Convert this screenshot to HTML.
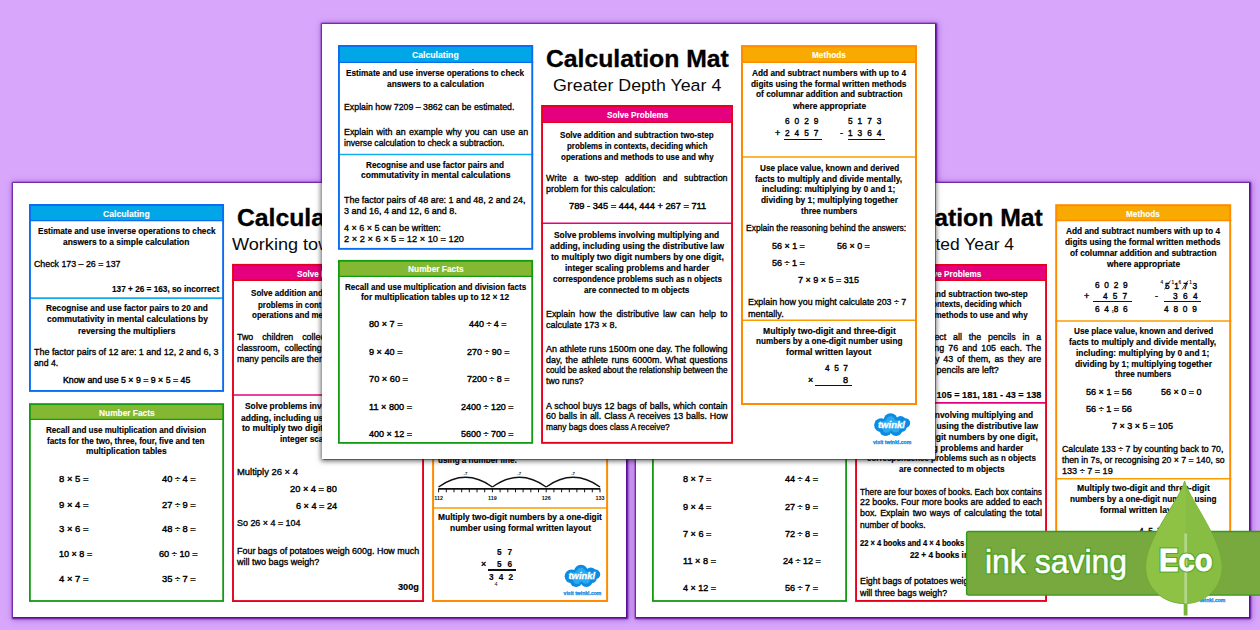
<!DOCTYPE html><html><head><meta charset="utf-8"><title>Calculation Mat</title><style>
html,body{margin:0;padding:0}
body{width:1260px;height:630px;overflow:hidden;background:#d8a7fb;position:relative;font-family:"Liberation Sans",sans-serif}
.a{position:absolute}
.sheet{position:absolute;background:#fff}
.shp{position:absolute;box-shadow:.6px .5px 1.5px 1.2px rgba(86,8,145,.95),.5px .5px 6px 2px rgba(120,40,185,.5)}
.shg{position:absolute;box-shadow:0 0 1px .5px rgba(40,40,40,.5),0 1px 5px 1px rgba(0,0,0,.62)}
.bx{position:absolute;box-sizing:border-box;border:1.5px solid;background:#fff}
.hd{position:absolute;left:0;right:0;top:0;box-sizing:border-box;border-bottom:1.2px solid}
.dv{position:absolute;left:0;right:0;height:1.6px}
.t{position:absolute;white-space:nowrap;transform-origin:0 50%;line-height:12px;height:12px}
.j{text-align:justify;text-align-last:justify;white-space:normal}
.ul{position:absolute;height:1.1px;background:#111}
</style></head><body>
<div class="shp" style="left:13px;top:183px;width:612.8px;height:434px"></div>
<div class="shp" style="left:636.3px;top:183px;width:612.7px;height:434px"></div>
<div class="sheet" style="left:13px;top:183px;width:612.8px;height:434px"></div>
<div class="sheet" style="left:636.3px;top:183px;width:612.7px;height:434px"></div>
<svg class="a" style="left:27.0px;top:202.0px" width="200.0" height="192.0" viewBox="27.0 202.0 200.0 192.0"><rect x="29.00" y="204.00" width="195.05" height="187.90" fill="#fff"/><rect x="29.95" y="204.95" width="193.15" height="15.65" fill="#00a6e6"/><line x1="29.00" x2="224.05" y1="220.60" y2="220.60" stroke="#0b6cf0" stroke-width="1.4"/><line x1="29.00" x2="224.05" y1="298.10" y2="298.10" stroke="#12aaf0" stroke-width="1.6"/><rect x="29.95" y="204.95" width="193.15" height="186.00" fill="none" stroke="#0b6cf0" stroke-width="1.9"/></svg>
<svg class="a" style="left:27.0px;top:401.0px" width="200.0" height="203.0" viewBox="27.0 401.0 200.0 203.0"><rect x="29.00" y="403.20" width="195.05" height="198.70" fill="#fff"/><rect x="29.90" y="404.10" width="193.25" height="15.30" fill="#84b832"/><line x1="29.00" x2="224.05" y1="419.40" y2="419.40" stroke="#139a13" stroke-width="1.4"/><rect x="29.90" y="404.10" width="193.25" height="196.90" fill="none" stroke="#139a13" stroke-width="1.8"/></svg>
<svg class="a" style="left:230.0px;top:261.0px" width="196.0" height="343.0" viewBox="230.0 261.0 196.0 343.0"><rect x="232.05" y="263.90" width="191.95" height="338.10" fill="#fff"/><rect x="233.00" y="264.85" width="190.05" height="15.45" fill="#e5007d"/><line x1="232.05" x2="424.00" y1="280.30" y2="280.30" stroke="#e6001c" stroke-width="1.4"/><line x1="232.05" x2="424.00" y1="395.00" y2="395.00" stroke="#e5007d" stroke-width="1.6"/><rect x="233.00" y="264.85" width="190.05" height="336.20" fill="none" stroke="#e6001c" stroke-width="1.9"/></svg>
<svg class="a" style="left:430.0px;top:202.0px" width="181.0" height="402.0" viewBox="430.0 202.0 181.0 402.0"><rect x="432.10" y="204.20" width="176.00" height="397.80" fill="#fff"/><rect x="433.10" y="205.20" width="174.00" height="15.30" fill="#f9aa00"/><line x1="432.10" x2="608.10" y1="220.50" y2="220.50" stroke="#ff8c00" stroke-width="1.4"/><line x1="432.10" x2="608.10" y1="508.00" y2="508.00" stroke="#fa9e00" stroke-width="1.6"/><rect x="433.10" y="205.20" width="174.00" height="395.80" fill="none" stroke="#ff8c00" stroke-width="2.0"/></svg>
<svg class="a" style="left:430px;top:466px" width="180" height="38" viewBox="430 466 180 38"><g stroke="#111" fill="none" stroke-width="1.45"><line x1="438.6" y1="488.8" x2="600.0" y2="488.8" stroke-width="1.8"/><line x1="438.6" y1="488.4" x2="438.6" y2="492.3" stroke-width="1.0"/><line x1="446.3" y1="488.4" x2="446.3" y2="492.3" stroke-width="1.0"/><line x1="454.0" y1="488.4" x2="454.0" y2="492.3" stroke-width="1.0"/><line x1="461.7" y1="488.4" x2="461.7" y2="492.3" stroke-width="1.0"/><line x1="469.3" y1="488.4" x2="469.3" y2="492.3" stroke-width="1.0"/><line x1="477.0" y1="488.4" x2="477.0" y2="492.3" stroke-width="1.0"/><line x1="484.7" y1="488.4" x2="484.7" y2="492.3" stroke-width="1.0"/><line x1="492.4" y1="488.4" x2="492.4" y2="492.3" stroke-width="1.0"/><line x1="500.1" y1="488.4" x2="500.1" y2="492.3" stroke-width="1.0"/><line x1="507.8" y1="488.4" x2="507.8" y2="492.3" stroke-width="1.0"/><line x1="515.5" y1="488.4" x2="515.5" y2="492.3" stroke-width="1.0"/><line x1="523.1" y1="488.4" x2="523.1" y2="492.3" stroke-width="1.0"/><line x1="530.8" y1="488.4" x2="530.8" y2="492.3" stroke-width="1.0"/><line x1="538.5" y1="488.4" x2="538.5" y2="492.3" stroke-width="1.0"/><line x1="546.2" y1="488.4" x2="546.2" y2="492.3" stroke-width="1.0"/><line x1="553.9" y1="488.4" x2="553.9" y2="492.3" stroke-width="1.0"/><line x1="561.6" y1="488.4" x2="561.6" y2="492.3" stroke-width="1.0"/><line x1="569.3" y1="488.4" x2="569.3" y2="492.3" stroke-width="1.0"/><line x1="576.9" y1="488.4" x2="576.9" y2="492.3" stroke-width="1.0"/><line x1="584.6" y1="488.4" x2="584.6" y2="492.3" stroke-width="1.0"/><line x1="592.3" y1="488.4" x2="592.3" y2="492.3" stroke-width="1.0"/><line x1="600.0" y1="488.4" x2="600.0" y2="492.3" stroke-width="1.0"/><path d="M438.6 487.0 Q465.5 467.6 492.4 487.0"/><path d="M492.4 487.0 Q519.3 467.6 546.2 487.0"/><path d="M546.2 487.0 Q573.1 467.6 600.0 487.0"/></g><text x="438.6" y="499.6" text-anchor="middle" font-family="Liberation Sans, sans-serif" font-weight="bold" font-size="5.4" fill="#111">112</text><text x="492.4" y="499.6" text-anchor="middle" font-family="Liberation Sans, sans-serif" font-weight="bold" font-size="5.4" fill="#111">119</text><text x="546.2" y="499.6" text-anchor="middle" font-family="Liberation Sans, sans-serif" font-weight="bold" font-size="5.4" fill="#111">126</text><text x="600.0" y="499.6" text-anchor="middle" font-family="Liberation Sans, sans-serif" font-weight="bold" font-size="5.4" fill="#111">133</text><text x="465.5" y="474.6" text-anchor="middle" font-family="Liberation Sans, sans-serif" font-weight="bold" font-size="4.4" fill="#111">-7</text><text x="519.3" y="474.6" text-anchor="middle" font-family="Liberation Sans, sans-serif" font-weight="bold" font-size="4.4" fill="#111">-7</text><text x="573.1" y="474.6" text-anchor="middle" font-family="Liberation Sans, sans-serif" font-weight="bold" font-size="4.4" fill="#111">-7</text></svg>
<div class="ul" style="left:488.0px;top:569.0px;width:28.4px;height:1.5px"></div>
<svg class="a" style="left:562px;top:562px" width="42" height="38" viewBox="562 562 42 38"><g transform="translate(564.20 564.70) scale(0.9865 0.9696)"><g fill="#0b8be2"><ellipse cx="18" cy="12.5" rx="15" ry="7.5"/><circle cx="7.5" cy="12" r="7"/><circle cx="17" cy="7" r="7"/><circle cx="27" cy="8.5" r="5.6"/><circle cx="31.5" cy="10" r="5"/><circle cx="12" cy="16.8" r="6.2"/><circle cx="22.5" cy="16.4" r="6.5"/><circle cx="28" cy="14" r="5"/></g><g fill="#2aa9ee"><ellipse cx="18" cy="12" rx="12.5" ry="5.5"/><circle cx="17" cy="8" r="4.8"/><circle cx="13" cy="16" r="3.8"/><circle cx="22" cy="15.5" r="4"/></g><text x="17.8" y="14.6" text-anchor="middle" font-family="Liberation Sans, sans-serif" font-weight="bold" font-style="italic" font-size="9.6" fill="#fff" stroke="#fff" stroke-width=".3" textLength="27" lengthAdjust="spacingAndGlyphs">twinkl</text></g><text x="563.60" y="595.20" font-family="Liberation Sans, sans-serif" font-weight="bold" font-size="5.4" fill="#0b86e0" stroke="#0b86e0" stroke-width=".25" textLength="37.7" lengthAdjust="spacingAndGlyphs">visit twinkl.com</text></svg>
<div class="t" style="left:103.2px;top:208.1px;font-size:9.0px;font-weight:bold;color:#fff;line-height:12px;height:12px;-webkit-text-stroke:0.1px #fff;transform:scaleX(0.9626)">Calculating</div>
<div class="t" style="left:98.7px;top:406.6px;font-size:9.0px;font-weight:bold;color:#fff;line-height:12px;height:12px;-webkit-text-stroke:0.1px #fff;transform:scaleX(0.9279)">Number Facts</div>
<div class="t" style="left:297.3px;top:267.9px;font-size:9.0px;font-weight:bold;color:#fff;line-height:12px;height:12px;-webkit-text-stroke:0.1px #fff;transform:scaleX(0.9077)">Solve Problems</div>
<div class="t" style="left:236.9px;top:203.0px;font-size:23.6px;font-weight:bold;color:#000;line-height:30px;height:30px;-webkit-text-stroke:0.3px #000;transform:scaleX(1.0484)">Calculation Mat</div>
<div class="t" style="left:232.4px;top:233.3px;font-size:17.2px;font-weight:normal;color:#0a0a0a;line-height:22px;height:22px;transform:scaleX(1.0529)">Working towards Year 4</div>
<div class="t" style="left:37.5px;top:225.2px;font-size:9.0px;font-weight:bold;color:#000;line-height:12px;height:12px;-webkit-text-stroke:0.15px #000;transform:scaleX(0.9076)">Estimate and use inverse operations to check</div>
<div class="t" style="left:63.3px;top:236.1px;font-size:9.0px;font-weight:bold;color:#000;line-height:12px;height:12px;-webkit-text-stroke:0.15px #000;transform:scaleX(0.9351)">answers to a simple calculation</div>
<div class="t" style="left:34.0px;top:257.6px;font-size:9.0px;font-weight:normal;color:#000;line-height:12px;height:12px;-webkit-text-stroke:0.32px #000;transform:scaleX(0.9793)">Check 173 – 26 = 137</div>
<div class="t" style="left:111.8px;top:283.4px;font-size:9.0px;font-weight:bold;color:#000;line-height:12px;height:12px;-webkit-text-stroke:0.15px #000;transform:scaleX(0.9156)">137 + 26 = 163, so incorrect</div>
<div class="t" style="left:45.8px;top:302.1px;font-size:9.0px;font-weight:bold;color:#000;line-height:12px;height:12px;-webkit-text-stroke:0.15px #000;transform:scaleX(0.9222)">Recognise and use factor pairs to 20 and</div>
<div class="t" style="left:46.8px;top:313.4px;font-size:9.0px;font-weight:bold;color:#000;line-height:12px;height:12px;-webkit-text-stroke:0.15px #000;transform:scaleX(0.9434)">commutativity in mental calculations by</div>
<div class="t" style="left:77.8px;top:324.7px;font-size:9.0px;font-weight:bold;color:#000;line-height:12px;height:12px;-webkit-text-stroke:0.15px #000;transform:scaleX(0.9307)">reversing the multipliers</div>
<div class="t" style="left:34.0px;top:346.4px;font-size:9.0px;font-weight:normal;color:#000;line-height:12px;height:12px;-webkit-text-stroke:0.32px #000;transform:scaleX(0.9934)">The factor pairs of 12 are: 1 and 12, 2 and 6, 3</div>
<div class="t" style="left:34.0px;top:357.3px;font-size:9.0px;font-weight:normal;color:#000;line-height:12px;height:12px;-webkit-text-stroke:0.32px #000;transform:scaleX(0.9668)">and 4.</div>
<div class="t" style="left:62.9px;top:374.2px;font-size:9.0px;font-weight:normal;color:#000;line-height:12px;height:12px;-webkit-text-stroke:0.4px #000;transform:scaleX(0.9747)">Know and use 5 × 9 = 9 × 5 = 45</div>
<div class="t" style="left:46.4px;top:424.1px;font-size:9.0px;font-weight:bold;color:#000;line-height:12px;height:12px;-webkit-text-stroke:0.15px #000;transform:scaleX(0.8953)">Recall and use multiplication and division</div>
<div class="t" style="left:47.2px;top:434.6px;font-size:9.0px;font-weight:bold;color:#000;line-height:12px;height:12px;-webkit-text-stroke:0.15px #000;transform:scaleX(0.9076)">facts for the two, three, four, five and ten</div>
<div class="t" style="left:86.4px;top:444.9px;font-size:9.0px;font-weight:bold;color:#000;line-height:12px;height:12px;-webkit-text-stroke:0.15px #000;transform:scaleX(0.9263)">multiplication tables</div>
<div class="t" style="left:59.2px;top:472.9px;font-size:9.0px;font-weight:normal;color:#000;line-height:12px;height:12px;-webkit-text-stroke:0.4px #000;transform:scaleX(1.0560)">8 × 5 =</div>
<div class="t" style="left:161.8px;top:472.9px;font-size:9.0px;font-weight:normal;color:#000;line-height:12px;height:12px;-webkit-text-stroke:0.4px #000;transform:scaleX(1.0330)">40 ÷ 4 =</div>
<div class="t" style="left:59.2px;top:498.6px;font-size:9.0px;font-weight:normal;color:#000;line-height:12px;height:12px;-webkit-text-stroke:0.4px #000;transform:scaleX(1.0560)">9 × 4 =</div>
<div class="t" style="left:161.8px;top:498.6px;font-size:9.0px;font-weight:normal;color:#000;line-height:12px;height:12px;-webkit-text-stroke:0.4px #000;transform:scaleX(1.0330)">27 ÷ 9 =</div>
<div class="t" style="left:59.2px;top:523.3px;font-size:9.0px;font-weight:normal;color:#000;line-height:12px;height:12px;-webkit-text-stroke:0.4px #000;transform:scaleX(1.0560)">3 × 6 =</div>
<div class="t" style="left:161.8px;top:523.3px;font-size:9.0px;font-weight:normal;color:#000;line-height:12px;height:12px;-webkit-text-stroke:0.4px #000;transform:scaleX(1.0330)">48 ÷ 8 =</div>
<div class="t" style="left:58.6px;top:548.4px;font-size:9.0px;font-weight:normal;color:#000;line-height:12px;height:12px;-webkit-text-stroke:0.4px #000;transform:scaleX(1.0051)">10 × 8 =</div>
<div class="t" style="left:159.4px;top:548.4px;font-size:9.0px;font-weight:normal;color:#000;line-height:12px;height:12px;-webkit-text-stroke:0.4px #000;transform:scaleX(1.0234)">60 ÷ 10 =</div>
<div class="t" style="left:59.2px;top:573.4px;font-size:9.0px;font-weight:normal;color:#000;line-height:12px;height:12px;-webkit-text-stroke:0.4px #000;transform:scaleX(1.0560)">4 × 7 =</div>
<div class="t" style="left:161.8px;top:573.4px;font-size:9.0px;font-weight:normal;color:#000;line-height:12px;height:12px;-webkit-text-stroke:0.4px #000;transform:scaleX(1.0330)">35 ÷ 7 =</div>
<div class="t" style="left:251.4px;top:287.1px;font-size:9.0px;font-weight:bold;color:#000;line-height:12px;height:12px;-webkit-text-stroke:0.15px #000;transform:scaleX(0.8987)">Solve addition and subtraction two-step</div>
<div class="t" style="left:257.9px;top:298.5px;font-size:9.0px;font-weight:bold;color:#000;line-height:12px;height:12px;-webkit-text-stroke:0.15px #000;transform:scaleX(0.8752)">problems in contexts, deciding which</div>
<div class="t" style="left:251.6px;top:309.2px;font-size:9.0px;font-weight:bold;color:#000;line-height:12px;height:12px;-webkit-text-stroke:0.15px #000;transform:scaleX(0.8876)">operations and methods to use and why</div>
<div class="t j" style="left:237.4px;top:331.2px;width:183.9px;font-size:9.0px;font-weight:normal;color:#000;line-height:12px;height:12px;-webkit-text-stroke:0.32px #000;transform:scaleX(0.9874)">Two children collect all pencils in the</div>
<div class="t j" style="left:237.4px;top:342.2px;width:183.9px;font-size:9.0px;font-weight:normal;color:#000;line-height:12px;height:12px;-webkit-text-stroke:0.32px #000;transform:scaleX(0.9874)">classroom, collecting 32 and 45 each. How</div>
<div class="t" style="left:237.4px;top:352.7px;font-size:9.0px;font-weight:normal;color:#000;line-height:12px;height:12px;-webkit-text-stroke:0.32px #000;transform:scaleX(0.9874)">many pencils are there altogether?</div>
<div class="t" style="left:245.3px;top:400.3px;font-size:9.0px;font-weight:bold;color:#000;line-height:12px;height:12px;-webkit-text-stroke:0.15px #000;transform:scaleX(0.9274)">Solve problems involving multiplying and</div>
<div class="t" style="left:241.0px;top:411.7px;font-size:9.0px;font-weight:bold;color:#000;line-height:12px;height:12px;-webkit-text-stroke:0.15px #000;transform:scaleX(0.9405)">adding, including using the distributive law</div>
<div class="t" style="left:241.7px;top:422.4px;font-size:9.0px;font-weight:bold;color:#000;line-height:12px;height:12px;-webkit-text-stroke:0.15px #000;transform:scaleX(0.9547)">to multiply two digit numbers by one digit,</div>
<div class="t" style="left:279.8px;top:433.1px;font-size:9.0px;font-weight:bold;color:#000;line-height:12px;height:12px;-webkit-text-stroke:0.15px #000;transform:scaleX(0.9143)">integer scaling problems</div>
<div class="t" style="left:237.2px;top:466.4px;font-size:9.0px;font-weight:normal;color:#000;line-height:12px;height:12px;-webkit-text-stroke:0.32px #000;transform:scaleX(1.0449)">Multiply 26 × 4</div>
<div class="t" style="left:289.8px;top:482.9px;font-size:9.0px;font-weight:normal;color:#000;line-height:12px;height:12px;-webkit-text-stroke:0.4px #000;transform:scaleX(1.0297)">20 × 4 = 80</div>
<div class="t" style="left:295.6px;top:500.4px;font-size:9.0px;font-weight:normal;color:#000;line-height:12px;height:12px;-webkit-text-stroke:0.4px #000;transform:scaleX(1.0136)">6 × 4 = 24</div>
<div class="t" style="left:237.2px;top:517.2px;font-size:9.0px;font-weight:normal;color:#000;line-height:12px;height:12px;-webkit-text-stroke:0.32px #000;transform:scaleX(0.9912)">So 26 × 4 = 104</div>
<div class="t" style="left:237.2px;top:545.1px;font-size:9.0px;font-weight:normal;color:#000;line-height:12px;height:12px;-webkit-text-stroke:0.32px #000;transform:scaleX(0.9918)">Four bags of potatoes weigh 600g. How much</div>
<div class="t" style="left:237.2px;top:555.8px;font-size:9.0px;font-weight:normal;color:#000;line-height:12px;height:12px;-webkit-text-stroke:0.32px #000;transform:scaleX(1.0031)">will two bags weigh?</div>
<div class="t" style="left:398.4px;top:581.1px;font-size:9.0px;font-weight:bold;color:#000;line-height:12px;height:12px;-webkit-text-stroke:0.15px #000;transform:scaleX(1.0187)">300g</div>
<div class="t" style="left:438.2px;top:454.1px;font-size:9.0px;font-weight:bold;color:#000;line-height:12px;height:12px;-webkit-text-stroke:0.15px #000;transform:scaleX(0.9004)">using a number line.</div>
<div class="t" style="left:438.2px;top:511.3px;font-size:9.0px;font-weight:bold;color:#000;line-height:12px;height:12px;-webkit-text-stroke:0.15px #000;transform:scaleX(0.9333)">Multiply two-digit numbers by a one-digit</div>
<div class="t" style="left:449.6px;top:522.2px;font-size:9.0px;font-weight:bold;color:#000;line-height:12px;height:12px;-webkit-text-stroke:0.15px #000;transform:scaleX(0.9368)">number using formal written layout</div>
<div class="t" style="left:497.4px;top:546.4px;font-size:9.0px;font-weight:bold;color:#000;line-height:12px;height:12px;-webkit-text-stroke:0.15px #000;letter-spacing:6.51px;transform:scaleX(0.92)">57</div>
<div class="t" style="left:480.8px;top:558.3px;font-size:9.0px;font-weight:normal;color:#000;line-height:12px;height:12px;-webkit-text-stroke:0.4px #000;transform:scaleX(1.0014)">×</div>
<div class="t" style="left:497.4px;top:558.3px;font-size:9.0px;font-weight:bold;color:#000;line-height:12px;height:12px;-webkit-text-stroke:0.15px #000;letter-spacing:6.51px;transform:scaleX(0.92)">56</div>
<div class="t" style="left:488.5px;top:571.0px;font-size:9.0px;font-weight:bold;color:#000;line-height:12px;height:12px;-webkit-text-stroke:0.15px #000;letter-spacing:5.58px;transform:scaleX(0.92)">342</div>
<div class="t" style="left:494.5px;top:577.9px;font-size:5.5px;font-weight:normal;color:#111;line-height:12px;height:12px;transform:scaleX(1.0000)">4</div>
<svg class="a" style="left:650.0px;top:401.0px" width="199.0" height="203.0" viewBox="650.0 401.0 199.0 203.0"><rect x="652.00" y="403.20" width="195.00" height="198.70" fill="#fff"/><rect x="652.90" y="404.10" width="193.20" height="15.30" fill="#84b832"/><line x1="652.00" x2="847.00" y1="419.40" y2="419.40" stroke="#139a13" stroke-width="1.4"/><rect x="652.90" y="404.10" width="193.20" height="196.90" fill="none" stroke="#139a13" stroke-width="1.8"/></svg>
<svg class="a" style="left:853.0px;top:262.0px" width="196.0" height="342.0" viewBox="853.0 262.0 196.0 342.0"><rect x="855.10" y="264.00" width="191.90" height="337.90" fill="#fff"/><rect x="856.05" y="264.95" width="190.00" height="15.25" fill="#e5007d"/><line x1="855.10" x2="1047.00" y1="280.20" y2="280.20" stroke="#e6001c" stroke-width="1.4"/><line x1="855.10" x2="1047.00" y1="402.90" y2="402.90" stroke="#e5007d" stroke-width="1.6"/><rect x="856.05" y="264.95" width="190.00" height="336.00" fill="none" stroke="#e6001c" stroke-width="1.9"/></svg>
<svg class="a" style="left:1053.0px;top:202.0px" width="181.0" height="366.0" viewBox="1053.0 202.0 181.0 366.0"><rect x="1055.20" y="204.20" width="176.00" height="361.80" fill="#fff"/><rect x="1056.20" y="205.20" width="174.00" height="15.30" fill="#f9aa00"/><line x1="1055.20" x2="1231.20" y1="220.50" y2="220.50" stroke="#ff8c00" stroke-width="1.4"/><line x1="1055.20" x2="1231.20" y1="321.00" y2="321.00" stroke="#fa9e00" stroke-width="1.6"/><line x1="1055.20" x2="1231.20" y1="478.80" y2="478.80" stroke="#fa9e00" stroke-width="1.6"/><rect x="1056.20" y="205.20" width="174.00" height="359.80" fill="none" stroke="#ff8c00" stroke-width="2.0"/></svg>
<div class="ul" style="left:1093.3px;top:301.1px;width:38.8px;height:1.1px"></div>
<div class="ul" style="left:1163.8px;top:301.1px;width:37.4px;height:1.1px"></div>
<svg class="a" style="left:1155px;top:276px" width="50" height="16" viewBox="1155 276 50 16"><g stroke="#111" stroke-width=".8"><line x1="1164.6" y1="289.4" x2="1170.4" y2="280.6"/><line x1="1182.2" y1="289.4" x2="1188" y2="280.6"/></g><g font-family="Liberation Sans, sans-serif" font-size="4.6" font-weight="bold" fill="#111"><text x="1160.4" y="283.6">4</text><text x="1171.4" y="283.6">1</text><text x="1178.6" y="283.6">6</text><text x="1189.2" y="283.6">1</text></g></svg>
<div class="t" style="left:1111.6px;top:306.4px;font-size:4.4px;font-weight:bold;color:#111">1</div>
<svg class="a" style="left:1186px;top:568px" width="42" height="38" viewBox="1186 568 42 38"><g transform="translate(1188.20 570.00) scale(0.9865 0.9696)"><g fill="#0b8be2"><ellipse cx="18" cy="12.5" rx="15" ry="7.5"/><circle cx="7.5" cy="12" r="7"/><circle cx="17" cy="7" r="7"/><circle cx="27" cy="8.5" r="5.6"/><circle cx="31.5" cy="10" r="5"/><circle cx="12" cy="16.8" r="6.2"/><circle cx="22.5" cy="16.4" r="6.5"/><circle cx="28" cy="14" r="5"/></g><g fill="#2aa9ee"><ellipse cx="18" cy="12" rx="12.5" ry="5.5"/><circle cx="17" cy="8" r="4.8"/><circle cx="13" cy="16" r="3.8"/><circle cx="22" cy="15.5" r="4"/></g><text x="17.8" y="14.6" text-anchor="middle" font-family="Liberation Sans, sans-serif" font-weight="bold" font-style="italic" font-size="9.6" fill="#fff" stroke="#fff" stroke-width=".3" textLength="27" lengthAdjust="spacingAndGlyphs">twinkl</text></g><text x="1187.60" y="601.70" font-family="Liberation Sans, sans-serif" font-weight="bold" font-size="5.4" fill="#0b86e0" stroke="#0b86e0" stroke-width=".25" textLength="37.7" lengthAdjust="spacingAndGlyphs">visit twinkl.com</text></svg>
<div class="t" style="left:683.3px;top:473.2px;font-size:9.0px;font-weight:normal;color:#000;line-height:12px;height:12px;-webkit-text-stroke:0.4px #000;transform:scaleX(1.0132)">8 × 7 =</div>
<div class="t" style="left:785.4px;top:473.2px;font-size:9.0px;font-weight:normal;color:#000;line-height:12px;height:12px;-webkit-text-stroke:0.4px #000;transform:scaleX(1.0086)">44 ÷ 4 =</div>
<div class="t" style="left:683.3px;top:500.6px;font-size:9.0px;font-weight:normal;color:#000;line-height:12px;height:12px;-webkit-text-stroke:0.4px #000;transform:scaleX(1.0132)">9 × 4 =</div>
<div class="t" style="left:785.4px;top:500.6px;font-size:9.0px;font-weight:normal;color:#000;line-height:12px;height:12px;-webkit-text-stroke:0.4px #000;transform:scaleX(1.0086)">27 ÷ 9 =</div>
<div class="t" style="left:683.3px;top:528.3px;font-size:9.0px;font-weight:normal;color:#000;line-height:12px;height:12px;-webkit-text-stroke:0.4px #000;transform:scaleX(1.0132)">7 × 6 =</div>
<div class="t" style="left:785.4px;top:528.3px;font-size:9.0px;font-weight:normal;color:#000;line-height:12px;height:12px;-webkit-text-stroke:0.4px #000;transform:scaleX(1.0086)">72 ÷ 8 =</div>
<div class="t" style="left:683.3px;top:555.2px;font-size:9.0px;font-weight:normal;color:#000;line-height:12px;height:12px;-webkit-text-stroke:0.4px #000;transform:scaleX(1.0193)">11 × 8 =</div>
<div class="t" style="left:783.0px;top:555.2px;font-size:9.0px;font-weight:normal;color:#000;line-height:12px;height:12px;-webkit-text-stroke:0.4px #000;transform:scaleX(1.0048)">24 ÷ 12 =</div>
<div class="t" style="left:683.3px;top:582.4px;font-size:9.0px;font-weight:normal;color:#000;line-height:12px;height:12px;-webkit-text-stroke:0.4px #000;transform:scaleX(0.9991)">4 × 12 =</div>
<div class="t" style="left:785.4px;top:582.4px;font-size:9.0px;font-weight:normal;color:#000;line-height:12px;height:12px;-webkit-text-stroke:0.4px #000;transform:scaleX(1.0086)">56 ÷ 7 =</div>
<div class="t" style="left:859.9px;top:203.0px;font-size:23.6px;font-weight:bold;color:#000;line-height:30px;height:30px;-webkit-text-stroke:0.3px #000;transform:scaleX(1.0484)">Calculation Mat</div>
<div class="t" style="left:887.3px;top:233.3px;font-size:17.2px;font-weight:normal;color:#0a0a0a;line-height:22px;height:22px;transform:scaleX(1.0145)">Expected Year 4</div>
<div class="t" style="left:919.9px;top:267.9px;font-size:9.0px;font-weight:bold;color:#fff;line-height:12px;height:12px;-webkit-text-stroke:0.1px #fff;transform:scaleX(0.9077)">Solve Problems</div>
<div class="t" style="left:1126.2px;top:207.7px;font-size:9.0px;font-weight:bold;color:#fff;line-height:12px;height:12px;-webkit-text-stroke:0.1px #fff;transform:scaleX(0.9135)">Methods</div>
<div class="t" style="left:874.4px;top:287.7px;font-size:9.0px;font-weight:bold;color:#000;line-height:12px;height:12px;-webkit-text-stroke:0.15px #000;transform:scaleX(0.8987)">Solve addition and subtraction two-step</div>
<div class="t" style="left:880.9px;top:297.9px;font-size:9.0px;font-weight:bold;color:#000;line-height:12px;height:12px;-webkit-text-stroke:0.15px #000;transform:scaleX(0.8752)">problems in contexts, deciding which</div>
<div class="t" style="left:874.6px;top:308.6px;font-size:9.0px;font-weight:bold;color:#000;line-height:12px;height:12px;-webkit-text-stroke:0.15px #000;transform:scaleX(0.8876)">operations and methods to use and why</div>
<div class="t j" style="left:860.2px;top:331.2px;width:183.5px;font-size:9.0px;font-weight:normal;color:#000;line-height:12px;height:12px;-webkit-text-stroke:0.32px #000;transform:scaleX(0.9874)">Two children collect all the pencils in a</div>
<div class="t j" style="left:860.2px;top:342.2px;width:183.5px;font-size:9.0px;font-weight:normal;color:#000;line-height:12px;height:12px;-webkit-text-stroke:0.32px #000;transform:scaleX(0.9874)">classroom, collecting 76 and 105 each. The</div>
<div class="t j" style="left:860.2px;top:352.7px;width:183.5px;font-size:9.0px;font-weight:normal;color:#000;line-height:12px;height:12px;-webkit-text-stroke:0.32px #000;transform:scaleX(0.9874)">teacher takes away 43 of them, as they are</div>
<div class="t" style="left:860.2px;top:363.6px;font-size:9.0px;font-weight:normal;color:#000;line-height:12px;height:12px;-webkit-text-stroke:0.32px #000;transform:scaleX(0.9874)">broken. How many pencils are left?</div>
<div class="t" style="left:916.0px;top:389.1px;font-size:9.0px;font-weight:bold;color:#000;line-height:12px;height:12px;-webkit-text-stroke:0.15px #000;transform:scaleX(1.0124)">76 + 105 = 181, 181 - 43 = 138</div>
<div class="t" style="left:868.3px;top:409.3px;font-size:9.0px;font-weight:bold;color:#000;line-height:12px;height:12px;-webkit-text-stroke:0.15px #000;transform:scaleX(0.9274)">Solve problems involving multiplying and</div>
<div class="t" style="left:864.0px;top:419.6px;font-size:9.0px;font-weight:bold;color:#000;line-height:12px;height:12px;-webkit-text-stroke:0.15px #000;transform:scaleX(0.9405)">adding, including using the distributive law</div>
<div class="t" style="left:864.7px;top:430.8px;font-size:9.0px;font-weight:bold;color:#000;line-height:12px;height:12px;-webkit-text-stroke:0.15px #000;transform:scaleX(0.9547)">to multiply two digit numbers by one digit,</div>
<div class="t" style="left:879.2px;top:442.0px;font-size:9.0px;font-weight:bold;color:#000;line-height:12px;height:12px;-webkit-text-stroke:0.15px #000;transform:scaleX(0.9277)">integer scaling problems and harder</div>
<div class="t" style="left:866.5px;top:452.2px;font-size:9.0px;font-weight:bold;color:#000;line-height:12px;height:12px;-webkit-text-stroke:0.15px #000;transform:scaleX(0.8840)">correspondence problems such as n objects</div>
<div class="t" style="left:898.8px;top:463.4px;font-size:9.0px;font-weight:bold;color:#000;line-height:12px;height:12px;-webkit-text-stroke:0.15px #000;transform:scaleX(0.9053)">are connected to m objects</div>
<div class="t" style="left:860.2px;top:485.6px;font-size:9.0px;font-weight:normal;color:#000;line-height:12px;height:12px;-webkit-text-stroke:0.32px #000;transform:scaleX(0.9163)">There are four boxes of books. Each box contains</div>
<div class="t" style="left:860.2px;top:495.8px;font-size:9.0px;font-weight:normal;color:#000;line-height:12px;height:12px;-webkit-text-stroke:0.32px #000;transform:scaleX(0.9858)">22 books. Four more books are added to each</div>
<div class="t j" style="left:860.2px;top:506.8px;width:184.3px;font-size:9.0px;font-weight:normal;color:#000;line-height:12px;height:12px;-webkit-text-stroke:0.32px #000;transform:scaleX(0.9874)">box. Explain two ways of calculating the total</div>
<div class="t" style="left:860.2px;top:518.7px;font-size:9.0px;font-weight:normal;color:#000;line-height:12px;height:12px;-webkit-text-stroke:0.32px #000;transform:scaleX(0.9432)">number of books.</div>
<div class="t" style="left:860.2px;top:538.4px;font-size:8.2px;font-weight:bold;color:#000;line-height:12px;height:12px;-webkit-text-stroke:0.2px #000;transform:scaleX(0.9194)">22 × 4 books and 4 × 4 books or</div>
<div class="t" style="left:909.7px;top:549.6px;font-size:8.2px;font-weight:bold;color:#000;line-height:12px;height:12px;-webkit-text-stroke:0.2px #000;transform:scaleX(0.9991)">22 + 4 books in each box, then × 4</div>
<div class="t" style="left:860.2px;top:575.1px;font-size:9.0px;font-weight:normal;color:#000;line-height:12px;height:12px;-webkit-text-stroke:0.32px #000;transform:scaleX(0.9805)">Eight bags of potatoes weigh 900g. How much</div>
<div class="t" style="left:860.2px;top:587.0px;font-size:9.0px;font-weight:normal;color:#000;line-height:12px;height:12px;-webkit-text-stroke:0.32px #000;transform:scaleX(0.9835)">will three bags weigh?</div>
<div class="t" style="left:1066.2px;top:225.3px;font-size:9.0px;font-weight:bold;color:#000;line-height:12px;height:12px;-webkit-text-stroke:0.15px #000;transform:scaleX(0.9221)">Add and subtract numbers with up to 4</div>
<div class="t" style="left:1064.8px;top:236.0px;font-size:9.0px;font-weight:bold;color:#000;line-height:12px;height:12px;-webkit-text-stroke:0.15px #000;transform:scaleX(0.9222)">digits using the formal written methods</div>
<div class="t" style="left:1069.5px;top:247.0px;font-size:9.0px;font-weight:bold;color:#000;line-height:12px;height:12px;-webkit-text-stroke:0.15px #000;transform:scaleX(0.9226)">of columnar addition and subtraction</div>
<div class="t" style="left:1106.7px;top:258.1px;font-size:9.0px;font-weight:bold;color:#000;line-height:12px;height:12px;-webkit-text-stroke:0.15px #000;transform:scaleX(0.9368)">where appropriate</div>
<div class="t" style="left:1094.8px;top:278.9px;font-size:9.0px;font-weight:normal;color:#000;line-height:12px;height:12px;-webkit-text-stroke:0.4px #000;letter-spacing:5.13px;transform:scaleX(0.92)">6029</div>
<div class="t" style="left:1084.4px;top:290.3px;font-size:9.0px;font-weight:normal;color:#000;line-height:12px;height:12px;-webkit-text-stroke:0.4px #000;transform:scaleX(1.0014)">+</div>
<div class="t" style="left:1103.4px;top:290.3px;font-size:9.0px;font-weight:normal;color:#000;line-height:12px;height:12px;-webkit-text-stroke:0.4px #000;letter-spacing:5.53px;transform:scaleX(0.92)">457</div>
<div class="t" style="left:1094.8px;top:302.7px;font-size:9.0px;font-weight:normal;color:#000;line-height:12px;height:12px;-webkit-text-stroke:0.4px #000;letter-spacing:5.13px;transform:scaleX(0.92)">6486</div>
<div class="t" style="left:1165.0px;top:279.5px;font-size:9.0px;font-weight:normal;color:#000;line-height:12px;height:12px;-webkit-text-stroke:0.4px #000;letter-spacing:4.95px;transform:scaleX(0.92)">5173</div>
<div class="t" style="left:1155.1px;top:290.3px;font-size:9.0px;font-weight:normal;color:#000;line-height:12px;height:12px;-webkit-text-stroke:0.4px #000;transform:scaleX(1.0014)">-</div>
<div class="t" style="left:1172.6px;top:290.3px;font-size:9.0px;font-weight:normal;color:#000;line-height:12px;height:12px;-webkit-text-stroke:0.4px #000;letter-spacing:5.80px;transform:scaleX(0.92)">364</div>
<div class="t" style="left:1164.3px;top:302.7px;font-size:9.0px;font-weight:normal;color:#000;line-height:12px;height:12px;-webkit-text-stroke:0.4px #000;letter-spacing:5.21px;transform:scaleX(0.92)">4809</div>
<div class="t" style="left:1073.8px;top:324.8px;font-size:9.0px;font-weight:bold;color:#000;line-height:12px;height:12px;-webkit-text-stroke:0.15px #000;transform:scaleX(0.9042)">Use place value, known and derived</div>
<div class="t" style="left:1069.0px;top:335.5px;font-size:9.0px;font-weight:bold;color:#000;line-height:12px;height:12px;-webkit-text-stroke:0.15px #000;transform:scaleX(0.9383)">facts to multiply and divide mentally,</div>
<div class="t" style="left:1076.2px;top:346.5px;font-size:9.0px;font-weight:bold;color:#000;line-height:12px;height:12px;-webkit-text-stroke:0.15px #000;transform:scaleX(0.9321)">including: multiplying by 0 and 1;</div>
<div class="t" style="left:1074.5px;top:357.7px;font-size:9.0px;font-weight:bold;color:#000;line-height:12px;height:12px;-webkit-text-stroke:0.15px #000;transform:scaleX(0.9312)">dividing by 1; multiplying together</div>
<div class="t" style="left:1114.8px;top:368.4px;font-size:9.0px;font-weight:bold;color:#000;line-height:12px;height:12px;-webkit-text-stroke:0.15px #000;transform:scaleX(0.8988)">three numbers</div>
<div class="t" style="left:1086.2px;top:385.8px;font-size:9.0px;font-weight:normal;color:#000;line-height:12px;height:12px;-webkit-text-stroke:0.4px #000;transform:scaleX(1.0078)">56 × 1 = 56</div>
<div class="t" style="left:1161.4px;top:385.8px;font-size:9.0px;font-weight:normal;color:#000;line-height:12px;height:12px;-webkit-text-stroke:0.4px #000;transform:scaleX(0.9988)">56 × 0 = 0</div>
<div class="t" style="left:1086.2px;top:402.9px;font-size:9.0px;font-weight:normal;color:#000;line-height:12px;height:12px;-webkit-text-stroke:0.4px #000;transform:scaleX(1.0147)">56 ÷ 1 = 56</div>
<div class="t" style="left:1112.4px;top:420.1px;font-size:9.0px;font-weight:normal;color:#000;line-height:12px;height:12px;-webkit-text-stroke:0.4px #000;transform:scaleX(1.0014)">7 × 3 × 5 = 105</div>
<div class="t" style="left:1062.4px;top:443.4px;font-size:9.0px;font-weight:normal;color:#000;line-height:12px;height:12px;-webkit-text-stroke:0.32px #000;transform:scaleX(0.9779)">Calculate 133 ÷ 7 by counting back to 70,</div>
<div class="t" style="left:1062.4px;top:454.1px;font-size:9.0px;font-weight:normal;color:#000;line-height:12px;height:12px;-webkit-text-stroke:0.32px #000;transform:scaleX(0.9671)">then in 7s, or recognising 20 × 7 = 140, so</div>
<div class="t" style="left:1062.4px;top:464.8px;font-size:9.0px;font-weight:normal;color:#000;line-height:12px;height:12px;-webkit-text-stroke:0.32px #000;transform:scaleX(1.0093)">133 ÷ 7 = 19</div>
<div class="t" style="left:1076.6px;top:482.4px;font-size:9.0px;font-weight:bold;color:#000;line-height:12px;height:12px;-webkit-text-stroke:0.15px #000;transform:scaleX(0.9555)">Multiply two-digit and three-digit</div>
<div class="t" style="left:1069.8px;top:493.3px;font-size:9.0px;font-weight:bold;color:#000;line-height:12px;height:12px;-webkit-text-stroke:0.15px #000;transform:scaleX(0.9092)">numbers by a one-digit number using</div>
<div class="t" style="left:1100.0px;top:504.2px;font-size:9.0px;font-weight:bold;color:#000;line-height:12px;height:12px;-webkit-text-stroke:0.15px #000;transform:scaleX(0.9637)">formal written layout</div>
<div class="t" style="left:1138.8px;top:524.7px;font-size:9.0px;font-weight:normal;color:#000;line-height:12px;height:12px;-webkit-text-stroke:0.4px #000;letter-spacing:4.93px;transform:scaleX(0.92)">457</div>
<div class="shp" style="left:322px;top:24px;width:613.3px;height:434.5px;clip-path:inset(-12px -12px 275.5px -12px)"></div>
<div class="shg" style="left:322px;top:24px;width:613.3px;height:434.5px;clip-path:inset(159px -14px -14px -14px)"></div>
<div class="sheet" style="left:322px;top:24px;width:613.3px;height:434.5px"></div>
<svg class="a" style="left:336.0px;top:43.0px" width="200.0" height="209.0" viewBox="336.0 43.0 200.0 209.0"><rect x="338.00" y="45.00" width="195.20" height="204.80" fill="#fff"/><rect x="338.95" y="45.95" width="193.30" height="16.45" fill="#00a6e6"/><line x1="338.00" x2="533.20" y1="62.40" y2="62.40" stroke="#0b6cf0" stroke-width="1.4"/><line x1="338.00" x2="533.20" y1="154.50" y2="154.50" stroke="#12aaf0" stroke-width="1.6"/><rect x="338.95" y="45.95" width="193.30" height="202.90" fill="none" stroke="#0b6cf0" stroke-width="1.9"/></svg>
<svg class="a" style="left:336.0px;top:257.0px" width="200.0" height="189.0" viewBox="336.0 257.0 200.0 189.0"><rect x="338.00" y="259.90" width="195.10" height="183.90" fill="#fff"/><rect x="338.90" y="260.80" width="193.30" height="15.60" fill="#84b832"/><line x1="338.00" x2="533.10" y1="276.40" y2="276.40" stroke="#139a13" stroke-width="1.4"/><rect x="338.90" y="260.80" width="193.30" height="182.10" fill="none" stroke="#139a13" stroke-width="1.8"/></svg>
<svg class="a" style="left:539.0px;top:103.0px" width="196.0" height="343.0" viewBox="539.0 103.0 196.0 343.0"><rect x="541.10" y="105.00" width="191.90" height="338.80" fill="#fff"/><rect x="542.05" y="105.95" width="190.00" height="16.45" fill="#e5007d"/><line x1="541.10" x2="733.00" y1="122.40" y2="122.40" stroke="#e6001c" stroke-width="1.4"/><line x1="541.10" x2="733.00" y1="223.30" y2="223.30" stroke="#e5007d" stroke-width="1.6"/><rect x="542.05" y="105.95" width="190.00" height="336.90" fill="none" stroke="#e6001c" stroke-width="1.9"/></svg>
<svg class="a" style="left:739.0px;top:43.0px" width="180.0" height="364.0" viewBox="739.0 43.0 180.0 364.0"><rect x="741.00" y="45.10" width="176.00" height="359.90" fill="#fff"/><rect x="742.00" y="46.10" width="174.00" height="16.10" fill="#f9aa00"/><line x1="741.00" x2="917.00" y1="62.20" y2="62.20" stroke="#ff8c00" stroke-width="1.4"/><line x1="741.00" x2="917.00" y1="157.00" y2="157.00" stroke="#fa9e00" stroke-width="1.6"/><line x1="741.00" x2="917.00" y1="320.30" y2="320.30" stroke="#fa9e00" stroke-width="1.6"/><rect x="742.00" y="46.10" width="174.00" height="357.90" fill="none" stroke="#ff8c00" stroke-width="2.0"/></svg>
<div class="ul" style="left:784.3px;top:138.6px;width:37.4px;height:1.1px"></div>
<div class="ul" style="left:847.9px;top:138.6px;width:37.4px;height:1.1px"></div>
<div class="ul" style="left:815.2px;top:384.8px;width:37.0px;height:1.1px"></div>
<svg class="a" style="left:871px;top:411px" width="43" height="37" viewBox="871 411 43 37"><g transform="translate(873.60 413.20) scale(1.0000 0.9913)"><g fill="#0b8be2"><ellipse cx="18" cy="12.5" rx="15" ry="7.5"/><circle cx="7.5" cy="12" r="7"/><circle cx="17" cy="7" r="7"/><circle cx="27" cy="8.5" r="5.6"/><circle cx="31.5" cy="10" r="5"/><circle cx="12" cy="16.8" r="6.2"/><circle cx="22.5" cy="16.4" r="6.5"/><circle cx="28" cy="14" r="5"/></g><g fill="#2aa9ee"><ellipse cx="18" cy="12" rx="12.5" ry="5.5"/><circle cx="17" cy="8" r="4.8"/><circle cx="13" cy="16" r="3.8"/><circle cx="22" cy="15.5" r="4"/></g><text x="17.8" y="14.6" text-anchor="middle" font-family="Liberation Sans, sans-serif" font-weight="bold" font-style="italic" font-size="9.6" fill="#fff" stroke="#fff" stroke-width=".3" textLength="27" lengthAdjust="spacingAndGlyphs">twinkl</text></g><text x="873.00" y="443.60" font-family="Liberation Sans, sans-serif" font-weight="bold" font-size="5.4" fill="#0b86e0" stroke="#0b86e0" stroke-width=".25" textLength="38.2" lengthAdjust="spacingAndGlyphs">visit twinkl.com</text></svg>
<div class="t" style="left:412.1px;top:49.0px;font-size:9.0px;font-weight:bold;color:#fff;line-height:12px;height:12px;-webkit-text-stroke:0.1px #fff;transform:scaleX(0.9626)">Calculating</div>
<div class="t" style="left:407.8px;top:263.3px;font-size:9.0px;font-weight:bold;color:#fff;line-height:12px;height:12px;-webkit-text-stroke:0.1px #fff;transform:scaleX(0.9279)">Number Facts</div>
<div class="t" style="left:606.5px;top:109.1px;font-size:9.0px;font-weight:bold;color:#fff;line-height:12px;height:12px;-webkit-text-stroke:0.1px #fff;transform:scaleX(0.9077)">Solve Problems</div>
<div class="t" style="left:812.2px;top:48.7px;font-size:9.0px;font-weight:bold;color:#fff;line-height:12px;height:12px;-webkit-text-stroke:0.1px #fff;transform:scaleX(0.9135)">Methods</div>
<div class="t" style="left:545.9px;top:44.0px;font-size:23.6px;font-weight:bold;color:#000;line-height:30px;height:30px;-webkit-text-stroke:0.3px #000;transform:scaleX(1.0484)">Calculation Mat</div>
<div class="t" style="left:553.1px;top:74.3px;font-size:17.2px;font-weight:normal;color:#0a0a0a;line-height:22px;height:22px;transform:scaleX(1.0361)">Greater Depth Year 4</div>
<div class="t" style="left:346.4px;top:66.9px;font-size:9.0px;font-weight:bold;color:#000;line-height:12px;height:12px;-webkit-text-stroke:0.15px #000;transform:scaleX(0.9106)">Estimate and use inverse operations to check</div>
<div class="t" style="left:386.8px;top:77.9px;font-size:9.0px;font-weight:bold;color:#000;line-height:12px;height:12px;-webkit-text-stroke:0.15px #000;transform:scaleX(0.9342)">answers to a calculation</div>
<div class="t" style="left:343.6px;top:101.3px;font-size:9.0px;font-weight:normal;color:#000;line-height:12px;height:12px;-webkit-text-stroke:0.32px #000;transform:scaleX(0.9758)">Explain how 7209 – 3862 can be estimated.</div>
<div class="t j" style="left:343.6px;top:125.9px;width:186.6px;font-size:9.0px;font-weight:normal;color:#000;line-height:12px;height:12px;-webkit-text-stroke:0.32px #000;transform:scaleX(0.9874)">Explain with an example why you can use an</div>
<div class="t" style="left:343.6px;top:136.6px;font-size:9.0px;font-weight:normal;color:#000;line-height:12px;height:12px;-webkit-text-stroke:0.32px #000;transform:scaleX(0.9634)">inverse calculation to check a subtraction.</div>
<div class="t" style="left:366.4px;top:158.8px;font-size:9.0px;font-weight:bold;color:#000;line-height:12px;height:12px;-webkit-text-stroke:0.15px #000;transform:scaleX(0.9083)">Recognise and use factor pairs and</div>
<div class="t" style="left:360.7px;top:169.2px;font-size:9.0px;font-weight:bold;color:#000;line-height:12px;height:12px;-webkit-text-stroke:0.15px #000;transform:scaleX(0.9489)">commutativity in mental calculations</div>
<div class="t" style="left:343.6px;top:194.0px;font-size:9.0px;font-weight:normal;color:#000;line-height:12px;height:12px;-webkit-text-stroke:0.32px #000;transform:scaleX(0.9906)">The factor pairs of 48 are: 1 and 48, 2 and 24,</div>
<div class="t" style="left:343.6px;top:204.7px;font-size:9.0px;font-weight:normal;color:#000;line-height:12px;height:12px;-webkit-text-stroke:0.32px #000;transform:scaleX(1.0008)">3 and 16, 4 and 12, 6 and 8.</div>
<div class="t" style="left:343.6px;top:221.8px;font-size:9.0px;font-weight:normal;color:#000;line-height:12px;height:12px;-webkit-text-stroke:0.32px #000;transform:scaleX(1.0014)">4 × 6 × 5 can be written:</div>
<div class="t" style="left:343.6px;top:232.7px;font-size:9.0px;font-weight:normal;color:#000;line-height:12px;height:12px;-webkit-text-stroke:0.32px #000;transform:scaleX(1.0291)">2 × 2 × 6 × 5 = 12 × 10 = 120</div>
<div class="t" style="left:345.2px;top:280.7px;font-size:9.0px;font-weight:bold;color:#000;line-height:12px;height:12px;-webkit-text-stroke:0.15px #000;transform:scaleX(0.8946)">Recall and use multiplication and division facts</div>
<div class="t" style="left:361.3px;top:290.9px;font-size:9.0px;font-weight:bold;color:#000;line-height:12px;height:12px;-webkit-text-stroke:0.15px #000;transform:scaleX(0.9327)">for multiplication tables up to 12 × 12</div>
<div class="t" style="left:369.0px;top:318.2px;font-size:9.0px;font-weight:normal;color:#000;line-height:12px;height:12px;-webkit-text-stroke:0.4px #000;transform:scaleX(1.0142)">80 × 7 =</div>
<div class="t" style="left:468.8px;top:318.2px;font-size:9.0px;font-weight:normal;color:#000;line-height:12px;height:12px;-webkit-text-stroke:0.4px #000;transform:scaleX(0.9942)">440 ÷ 4 =</div>
<div class="t" style="left:369.0px;top:345.7px;font-size:9.0px;font-weight:normal;color:#000;line-height:12px;height:12px;-webkit-text-stroke:0.4px #000;transform:scaleX(1.0142)">9 × 40 =</div>
<div class="t" style="left:466.6px;top:345.7px;font-size:9.0px;font-weight:normal;color:#000;line-height:12px;height:12px;-webkit-text-stroke:0.4px #000;transform:scaleX(0.9922)">270 ÷ 90 =</div>
<div class="t" style="left:369.0px;top:373.0px;font-size:9.0px;font-weight:normal;color:#000;line-height:12px;height:12px;-webkit-text-stroke:0.4px #000;transform:scaleX(1.0251)">70 × 60 =</div>
<div class="t" style="left:466.6px;top:373.0px;font-size:9.0px;font-weight:normal;color:#000;line-height:12px;height:12px;-webkit-text-stroke:0.4px #000;transform:scaleX(0.9922)">7200 ÷ 8 =</div>
<div class="t" style="left:369.0px;top:400.5px;font-size:9.0px;font-weight:normal;color:#000;line-height:12px;height:12px;-webkit-text-stroke:0.4px #000;transform:scaleX(1.0147)">11 × 800 =</div>
<div class="t" style="left:461.4px;top:400.5px;font-size:9.0px;font-weight:normal;color:#000;line-height:12px;height:12px;-webkit-text-stroke:0.4px #000;transform:scaleX(0.9975)">2400 ÷ 120 =</div>
<div class="t" style="left:369.0px;top:427.8px;font-size:9.0px;font-weight:normal;color:#000;line-height:12px;height:12px;-webkit-text-stroke:0.4px #000;transform:scaleX(0.9989)">400 × 12 =</div>
<div class="t" style="left:461.4px;top:427.8px;font-size:9.0px;font-weight:normal;color:#000;line-height:12px;height:12px;-webkit-text-stroke:0.4px #000;transform:scaleX(0.9975)">5600 ÷ 700 =</div>
<div class="t" style="left:560.4px;top:129.1px;font-size:9.0px;font-weight:bold;color:#000;line-height:12px;height:12px;-webkit-text-stroke:0.15px #000;transform:scaleX(0.8987)">Solve addition and subtraction two-step</div>
<div class="t" style="left:566.9px;top:139.8px;font-size:9.0px;font-weight:bold;color:#000;line-height:12px;height:12px;-webkit-text-stroke:0.15px #000;transform:scaleX(0.8752)">problems in contexts, deciding which</div>
<div class="t" style="left:560.6px;top:150.6px;font-size:9.0px;font-weight:bold;color:#000;line-height:12px;height:12px;-webkit-text-stroke:0.15px #000;transform:scaleX(0.8876)">operations and methods to use and why</div>
<div class="t j" style="left:546.2px;top:172.2px;width:183.9px;font-size:9.0px;font-weight:normal;color:#000;line-height:12px;height:12px;-webkit-text-stroke:0.32px #000;transform:scaleX(0.9874)">Write a two-step addition and subtraction</div>
<div class="t" style="left:546.2px;top:183.1px;font-size:9.0px;font-weight:normal;color:#000;line-height:12px;height:12px;-webkit-text-stroke:0.32px #000;transform:scaleX(0.9967)">problem for this calculation:</div>
<div class="t" style="left:568.5px;top:200.1px;font-size:9.0px;font-weight:normal;color:#000;line-height:12px;height:12px;-webkit-text-stroke:0.4px #000;transform:scaleX(1.0300)">789 - 345 = 444, 444 + 267 = 711</div>
<div class="t" style="left:554.3px;top:229.3px;font-size:9.0px;font-weight:bold;color:#000;line-height:12px;height:12px;-webkit-text-stroke:0.15px #000;transform:scaleX(0.9274)">Solve problems involving multiplying and</div>
<div class="t" style="left:550.0px;top:240.0px;font-size:9.0px;font-weight:bold;color:#000;line-height:12px;height:12px;-webkit-text-stroke:0.15px #000;transform:scaleX(0.9405)">adding, including using the distributive law</div>
<div class="t" style="left:550.7px;top:250.9px;font-size:9.0px;font-weight:bold;color:#000;line-height:12px;height:12px;-webkit-text-stroke:0.15px #000;transform:scaleX(0.9547)">to multiply two digit numbers by one digit,</div>
<div class="t" style="left:565.2px;top:261.6px;font-size:9.0px;font-weight:bold;color:#000;line-height:12px;height:12px;-webkit-text-stroke:0.15px #000;transform:scaleX(0.9277)">integer scaling problems and harder</div>
<div class="t" style="left:552.5px;top:273.0px;font-size:9.0px;font-weight:bold;color:#000;line-height:12px;height:12px;-webkit-text-stroke:0.15px #000;transform:scaleX(0.8840)">correspondence problems such as n objects</div>
<div class="t" style="left:584.3px;top:283.5px;font-size:9.0px;font-weight:bold;color:#000;line-height:12px;height:12px;-webkit-text-stroke:0.15px #000;transform:scaleX(0.9045)">are connected to m objects</div>
<div class="t j" style="left:546.2px;top:308.2px;width:183.9px;font-size:9.0px;font-weight:normal;color:#000;line-height:12px;height:12px;-webkit-text-stroke:0.32px #000;transform:scaleX(0.9874)">Explain how the distributive law can help to</div>
<div class="t" style="left:546.2px;top:318.9px;font-size:9.0px;font-weight:normal;color:#000;line-height:12px;height:12px;-webkit-text-stroke:0.32px #000;transform:scaleX(1.0041)">calculate 173 × 8.</div>
<div class="t" style="left:546.2px;top:343.0px;font-size:9.0px;font-weight:normal;color:#000;line-height:12px;height:12px;-webkit-text-stroke:0.32px #000;transform:scaleX(0.9962)">An athlete runs 1500m one day. The following</div>
<div class="t j" style="left:546.2px;top:353.7px;width:183.9px;font-size:9.0px;font-weight:normal;color:#000;line-height:12px;height:12px;-webkit-text-stroke:0.32px #000;transform:scaleX(0.9874)">day, the athlete runs 6000m. What questions</div>
<div class="t" style="left:546.2px;top:364.4px;font-size:9.0px;font-weight:normal;color:#000;line-height:12px;height:12px;-webkit-text-stroke:0.32px #000;transform:scaleX(0.9050)">could be asked about the relationship between the</div>
<div class="t" style="left:546.2px;top:375.1px;font-size:9.0px;font-weight:normal;color:#000;line-height:12px;height:12px;-webkit-text-stroke:0.32px #000;transform:scaleX(0.9633)">two runs?</div>
<div class="t j" style="left:546.2px;top:399.7px;width:183.9px;font-size:9.0px;font-weight:normal;color:#000;line-height:12px;height:12px;-webkit-text-stroke:0.32px #000;transform:scaleX(0.9874)">A school buys 12 bags of balls, which contain</div>
<div class="t j" style="left:546.2px;top:410.4px;width:183.9px;font-size:9.0px;font-weight:normal;color:#000;line-height:12px;height:12px;-webkit-text-stroke:0.32px #000;transform:scaleX(0.9874)">60 balls in all.  Class A receives 13 balls. How</div>
<div class="t" style="left:546.2px;top:421.1px;font-size:9.0px;font-weight:normal;color:#000;line-height:12px;height:12px;-webkit-text-stroke:0.32px #000;transform:scaleX(0.9295)">many bags does class A receive?</div>
<div class="t" style="left:752.2px;top:67.0px;font-size:9.0px;font-weight:bold;color:#000;line-height:12px;height:12px;-webkit-text-stroke:0.15px #000;transform:scaleX(0.9221)">Add and subtract numbers with up to 4</div>
<div class="t" style="left:750.8px;top:77.7px;font-size:9.0px;font-weight:bold;color:#000;line-height:12px;height:12px;-webkit-text-stroke:0.15px #000;transform:scaleX(0.9222)">digits using the formal written methods</div>
<div class="t" style="left:755.5px;top:88.4px;font-size:9.0px;font-weight:bold;color:#000;line-height:12px;height:12px;-webkit-text-stroke:0.15px #000;transform:scaleX(0.9226)">of columnar addition and subtraction</div>
<div class="t" style="left:792.7px;top:99.6px;font-size:9.0px;font-weight:bold;color:#000;line-height:12px;height:12px;-webkit-text-stroke:0.15px #000;transform:scaleX(0.9368)">where appropriate</div>
<div class="t" style="left:784.8px;top:115.3px;font-size:9.0px;font-weight:normal;color:#000;line-height:12px;height:12px;-webkit-text-stroke:0.4px #000;letter-spacing:5.39px;transform:scaleX(0.92)">6029</div>
<div class="t" style="left:847.9px;top:115.3px;font-size:9.0px;font-weight:normal;color:#000;line-height:12px;height:12px;-webkit-text-stroke:0.4px #000;letter-spacing:5.39px;transform:scaleX(0.92)">5173</div>
<div class="t" style="left:784.8px;top:127.2px;font-size:9.0px;font-weight:normal;color:#000;line-height:12px;height:12px;-webkit-text-stroke:0.4px #000;letter-spacing:5.39px;transform:scaleX(0.92)">2457</div>
<div class="t" style="left:847.9px;top:127.2px;font-size:9.0px;font-weight:normal;color:#000;line-height:12px;height:12px;-webkit-text-stroke:0.4px #000;letter-spacing:5.39px;transform:scaleX(0.92)">1364</div>
<div class="t" style="left:775.4px;top:127.2px;font-size:9.0px;font-weight:normal;color:#000;line-height:12px;height:12px;-webkit-text-stroke:0.4px #000;transform:scaleX(1.0014)">+</div>
<div class="t" style="left:839.5px;top:127.2px;font-size:9.0px;font-weight:normal;color:#000;line-height:12px;height:12px;-webkit-text-stroke:0.4px #000;transform:scaleX(1.0014)">-</div>
<div class="t" style="left:759.8px;top:161.5px;font-size:9.0px;font-weight:bold;color:#000;line-height:12px;height:12px;-webkit-text-stroke:0.15px #000;transform:scaleX(0.9042)">Use place value, known and derived</div>
<div class="t" style="left:755.0px;top:172.5px;font-size:9.0px;font-weight:bold;color:#000;line-height:12px;height:12px;-webkit-text-stroke:0.15px #000;transform:scaleX(0.9383)">facts to multiply and divide mentally,</div>
<div class="t" style="left:762.2px;top:183.1px;font-size:9.0px;font-weight:bold;color:#000;line-height:12px;height:12px;-webkit-text-stroke:0.15px #000;transform:scaleX(0.9321)">including: multiplying by 0 and 1;</div>
<div class="t" style="left:760.5px;top:194.3px;font-size:9.0px;font-weight:bold;color:#000;line-height:12px;height:12px;-webkit-text-stroke:0.15px #000;transform:scaleX(0.9312)">dividing by 1; multiplying together</div>
<div class="t" style="left:800.8px;top:205.3px;font-size:9.0px;font-weight:bold;color:#000;line-height:12px;height:12px;-webkit-text-stroke:0.15px #000;transform:scaleX(0.8988)">three numbers</div>
<div class="t" style="left:746.0px;top:222.4px;font-size:9.0px;font-weight:normal;color:#000;line-height:12px;height:12px;-webkit-text-stroke:0.32px #000;transform:scaleX(0.9444)">Explain the reasoning behind the answers:</div>
<div class="t" style="left:772.2px;top:239.8px;font-size:9.0px;font-weight:normal;color:#000;line-height:12px;height:12px;-webkit-text-stroke:0.4px #000;transform:scaleX(0.9930)">56 × 1 =</div>
<div class="t" style="left:837.2px;top:239.8px;font-size:9.0px;font-weight:normal;color:#000;line-height:12px;height:12px;-webkit-text-stroke:0.4px #000;transform:scaleX(0.9930)">56 × 0 =</div>
<div class="t" style="left:772.2px;top:256.5px;font-size:9.0px;font-weight:normal;color:#000;line-height:12px;height:12px;-webkit-text-stroke:0.4px #000;transform:scaleX(1.0025)">56 ÷ 1 =</div>
<div class="t" style="left:798.4px;top:274.1px;font-size:9.0px;font-weight:normal;color:#000;line-height:12px;height:12px;-webkit-text-stroke:0.4px #000;transform:scaleX(1.0014)">7 × 9 × 5 = 315</div>
<div class="t" style="left:747.9px;top:296.2px;font-size:9.0px;font-weight:normal;color:#000;line-height:12px;height:12px;-webkit-text-stroke:0.32px #000;transform:scaleX(0.9860)">Explain how you might calculate 203 ÷ 7</div>
<div class="t" style="left:747.9px;top:307.7px;font-size:9.0px;font-weight:normal;color:#000;line-height:12px;height:12px;-webkit-text-stroke:0.32px #000;transform:scaleX(1.0096)">mentally.</div>
<div class="t" style="left:762.6px;top:324.6px;font-size:9.0px;font-weight:bold;color:#000;line-height:12px;height:12px;-webkit-text-stroke:0.15px #000;transform:scaleX(0.9555)">Multiply two-digit and three-digit</div>
<div class="t" style="left:755.8px;top:335.2px;font-size:9.0px;font-weight:bold;color:#000;line-height:12px;height:12px;-webkit-text-stroke:0.15px #000;transform:scaleX(0.9092)">numbers by a one-digit number using</div>
<div class="t" style="left:786.0px;top:346.1px;font-size:9.0px;font-weight:bold;color:#000;line-height:12px;height:12px;-webkit-text-stroke:0.15px #000;transform:scaleX(0.9637)">formal written layout</div>
<div class="t" style="left:824.8px;top:362.1px;font-size:9.0px;font-weight:normal;color:#000;line-height:12px;height:12px;-webkit-text-stroke:0.4px #000;letter-spacing:4.93px;transform:scaleX(0.92)">457</div>
<div class="t" style="left:807.9px;top:373.5px;font-size:9.0px;font-weight:normal;color:#000;line-height:12px;height:12px;-webkit-text-stroke:0.4px #000;transform:scaleX(1.0014)">×</div>
<div class="t" style="left:842.6px;top:373.5px;font-size:9.0px;font-weight:normal;color:#000;line-height:12px;height:12px;-webkit-text-stroke:0.4px #000;transform:scaleX(1.0168)">8</div>
<svg class="a" style="left:960px;top:525px" width="300" height="76" viewBox="960 525 300 76"><rect x="966.6" y="531.5" width="300" height="63.6" rx="2" fill="#78a93e" stroke="#33991a" stroke-width="1.4"/></svg><svg class="a" style="left:1130px;top:470px" width="110" height="160" viewBox="1130 470 110 160"><defs><clipPath id="lf"><path d="M1184.6 481 C1180.5 499 1145.6 538 1145.6 567 C1145.6 588 1163 603.6 1184.6 603.6 C1205 603.6 1221.6 588 1221.6 567 C1221.6 538 1189 499 1184.6 481 Z"/></clipPath></defs><rect x="1183.7" y="598" width="3.8" height="17.5" fill="#78b436"/><path d="M1184.6 481 C1180.5 499 1145.6 538 1145.6 567 C1145.6 588 1163 603.6 1184.6 603.6 C1205 603.6 1221.6 588 1221.6 567 C1221.6 538 1189 499 1184.6 481 Z" fill="#8dc245" stroke="#6eaa34" stroke-width=".9"/><rect x="1185.6" y="470" width="60" height="140" fill="#87bd42" clip-path="url(#lf)"/><rect x="1184.3" y="533.5" width="2.8" height="70.5" fill="#b2d78a" clip-path="url(#lf)"/></svg>
<div class="t" style="left:984.8px;top:542.0px;font-size:33.5px;font-weight:normal;line-height:40px;height:40px;color:#4da424;-webkit-text-stroke:3.0px #4da424;transform:scaleX(0.9539)">ink saving</div><div class="t" style="left:984.8px;top:542.0px;font-size:33.5px;font-weight:normal;line-height:40px;height:40px;color:#fff;-webkit-text-stroke:0.5px #fff;transform:scaleX(0.9539)">ink saving</div><div class="t" style="left:1159.4px;top:540.9px;font-size:31.0px;font-weight:bold;line-height:40px;height:40px;color:#55a526;-webkit-text-stroke:3.2px #55a526;transform:scaleX(0.9427)">Eco</div><div class="t" style="left:1159.4px;top:540.9px;font-size:31.0px;font-weight:bold;line-height:40px;height:40px;color:#fff;-webkit-text-stroke:0.8px #fff;transform:scaleX(0.9427)">Eco</div>
</body></html>
